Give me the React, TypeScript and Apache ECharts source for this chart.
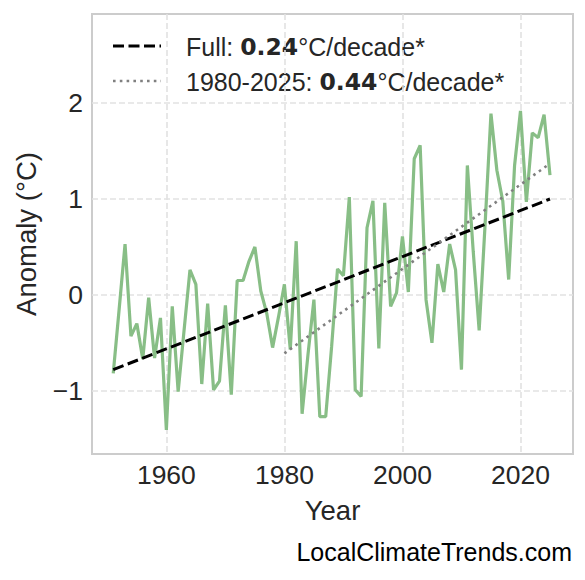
import React, { useEffect, useRef } from "react";
import * as echarts from "echarts";

const years: number[] = [
  1951, 1952, 1953, 1954, 1955, 1956, 1957, 1958, 1959, 1960,
  1961, 1962, 1963, 1964, 1965, 1966, 1967, 1968, 1969, 1970,
  1971, 1972, 1973, 1974, 1975, 1976, 1977, 1978, 1979, 1980,
  1981, 1982, 1983, 1984, 1985, 1986, 1987, 1988, 1989, 1990,
  1991, 1992, 1993, 1994, 1995, 1996, 1997, 1998, 1999, 2000,
  2001, 2002, 2003, 2004, 2005, 2006, 2007, 2008, 2009, 2010,
  2011, 2012, 2013, 2014, 2015, 2016, 2017, 2018, 2019, 2020,
  2021, 2022, 2023, 2024, 2025,
];

const anomalies: number[] = [
  -0.82, -0.15, 0.53, -0.43, -0.3, -0.67, -0.03, -0.66, -0.24, -1.41,
  -0.12, -1.01, -0.37, 0.26, 0.11, -0.93, -0.09, -0.99, -0.9, -0.11,
  -1.04, 0.15, 0.15, 0.35, 0.5, 0.04, -0.19, -0.55, -0.23, 0.11,
  -0.57, 0.56, -1.24, -0.62, -0.05, -1.27, -1.27, -0.54, 0.27, 0.2,
  1.02, -0.99, -1.06, 0.7, 0.98, -0.56, 0.96, -0.12, 0.02, 0.61,
  0.03, 1.42, 1.56, -0.05, -0.5, 0.32, 0.03, 0.53, 0.26, -0.78,
  1.35, 0.45, -0.37, 0.73, 1.89, 1.3, 0.98, 0.16, 1.35, 1.92,
  0.97, 1.69, 1.64, 1.88, 1.25,
];

const fullTrendYears: number[] = [1951, 2025];
const fullTrendValues: number[] = [-0.78, 1.0];
const recentTrendYears: number[] = [1980, 2025];
const recentTrendValues: number[] = [-0.61, 1.37];

const xTicks: number[] = [1960, 1980, 2000, 2020];
const yTicks: number[] = [-1, 0, 1, 2];

const legendPrefixes: string[] = ["Full: ", "1980-2025: "];
const legendRates: string[] = ["0.24", "0.44"];
const legendSuffix = "°C/decade*";

const xAxisTitle = "Year";
const yAxisTitle = "Anomaly (°C)";
const watermark = "LocalClimateTrends.com";

const FONT = "'Liberation Sans', Arial, Helvetica, sans-serif";
const TEXT = "#262626";

export default function App() {
  const ref = useRef<HTMLDivElement>(null);

  useEffect(() => {
    document.body.style.margin = "0";
    if (!ref.current) return;
    const chart = echarts.init(ref.current, undefined, { renderer: "svg" });

    const pairs = (xs: number[], ys: number[]) => xs.map((x, i) => [x, ys[i]]);

    const legendRow = (i: number, y: number, dash: number[], color: string, width: number) => [
      {
        type: "line",
        shape: { x1: 113, y1: y, x2: 161, y2: y },
        style: { stroke: color, lineWidth: width, lineDash: dash },
      },
      {
        type: "text",
        x: 186,
        y: y + 1,
        style: {
          text: legendPrefixes[i] + "{b|" + legendRates[i] + "}" + legendSuffix,
          fontFamily: FONT,
          fontSize: 25,
          fill: TEXT,
          verticalAlign: "middle",
          align: "left",
          rich: {
            b: {
              fontFamily: "'DejaVu Sans', sans-serif",
              fontWeight: "bold",
              fontSize: 23.5,
              fill: TEXT,
              color: TEXT,
            },
          },
        },
      },
    ];

    chart.setOption({
      animation: false,
      backgroundColor: "#ffffff",
      grid: {
        left: 92,
        top: 14,
        right: 12,
        bottom: 126,
        show: true,
        borderColor: "#cccccc",
        borderWidth: 2,
        backgroundColor: "#ffffff",
      },
      xAxis: {
        type: "value",
        min: 1947.4,
        max: 2028.9,
        name: xAxisTitle,
        nameLocation: "middle",
        nameGap: 42,
        nameTextStyle: { fontFamily: FONT, fontSize: 27.5, color: TEXT },
        axisLine: { show: false },
        axisTick: { show: false, customValues: xTicks },
        axisLabel: {
          customValues: xTicks,
          fontFamily: FONT,
          fontSize: 26.5,
          color: TEXT,
          margin: 7,
          formatter: (v: number) => String(v),
        },
        splitLine: {
          show: true,
          lineStyle: { color: "#e2e2e2", width: 1.6, type: [6, 3] },
        },
      },
      yAxis: {
        type: "value",
        min: -1.66,
        max: 2.93,
        name: yAxisTitle,
        nameLocation: "middle",
        nameGap: 52,
        nameTextStyle: { fontFamily: FONT, fontSize: 27.5, color: TEXT },
        axisLine: { show: false },
        axisTick: { show: false, customValues: yTicks },
        axisLabel: {
          customValues: yTicks,
          fontFamily: FONT,
          fontSize: 26.5,
          color: TEXT,
          margin: 9,
          formatter: (v: number) => (v < 0 ? "\u2212" + Math.abs(v) : String(v)),
        },
        splitLine: {
          show: true,
          lineStyle: { color: "#e2e2e2", width: 1.6, type: [6, 3] },
        },
      },
      series: [
        {
          type: "line",
          data: pairs(years, anomalies),
          symbol: "none",
          lineStyle: { color: "#88be86", width: 3.2 },
          z: 2,
        },
        {
          type: "line",
          data: pairs(fullTrendYears, fullTrendValues),
          symbol: "none",
          lineStyle: { color: "#000000", width: 3, type: [11, 4.5] },
          z: 3,
        },
        {
          type: "line",
          data: pairs(recentTrendYears, recentTrendValues),
          symbol: "none",
          lineStyle: { color: "#808080", width: 2.6, type: [2.6, 4.2] },
          z: 3,
        },
      ],
      graphic: [
        ...legendRow(0, 46, [11, 4.5], "#000000", 3),
        ...legendRow(1, 81, [2.6, 4.2], "#808080", 2.6),
        {
          type: "text",
          right: 13,
          top: 539,
          style: {
            text: watermark,
            fontFamily: FONT,
            fontSize: 25,
            fill: "#000000",
          },
        },
      ],
    });

    return () => chart.dispose();
  }, []);

  return <div ref={ref} style={{ width: 585, height: 580 }} />;
}
